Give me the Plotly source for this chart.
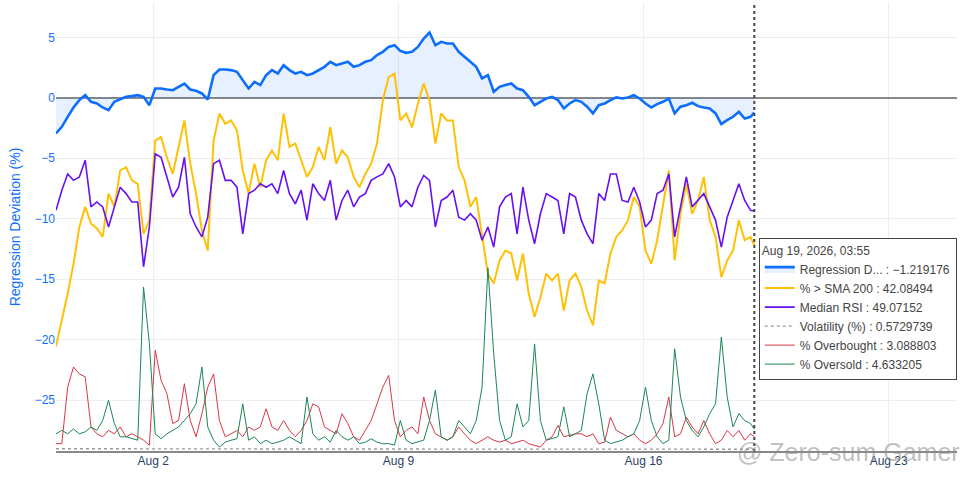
import pandas as pd
import plotly.graph_objects as go

# ---------------- data ----------------
start_time = "2026-07-30 05:20"
last_time = "2026-08-19 03:55"
axis_end = "2026-08-24 22:50"

reg_dev = [
    -2.95, -2.40, -1.57, -0.80, -0.19, 0.22, -0.33, -0.47, -0.80, -1.02,
    -0.33, -0.14, 0.08, 0.14, 0.22, 0.08, -0.61, 0.77, 0.77, 0.69,
    0.63, 0.91, 1.18, 0.69, 0.58, 0.36, -0.14, 1.87, 2.34, 2.34,
    2.29, 2.15, 1.46, 0.77, 1.32, 1.05, 1.87, 2.29, 2.01, 2.70,
    2.29, 2.01, 2.15, 1.87, 2.01, 2.29, 2.56, 2.98, 2.70, 2.84,
    2.98, 2.56, 2.70, 2.98, 3.11, 3.53, 3.80, 4.21, 4.35, 3.88,
    3.72, 3.80, 4.21, 4.90, 5.40, 4.35, 4.63, 4.49, 4.49, 3.80,
    3.39, 2.98, 2.56, 1.60, 1.87, 0.50, 0.91, 1.05, 1.18, 0.77,
    0.63, 0.08, -0.61, -0.33, -0.06, 0.08, -0.19, -0.88, -0.47, -0.19,
    -0.33, -0.74, -1.29, -0.61, -0.47, -0.19, 0.03, -0.06, 0.03, 0.22,
    -0.06, -0.47, -0.80, -0.52, -0.33, -0.06, -1.29, -0.74, -0.61, -0.41,
    -0.69, -0.80, -0.88, -1.29, -2.18, -1.85, -1.57, -1.16, -1.71, -1.57,
    -1.219176,
]

pct_sma200 = [
    21.5, 26.8, 32.2, 38.3, 45.8, 49.9, 46.5, 45.5, 43.8, 52.6,
    49.9, 57.3, 58.0, 55.3, 54.6, 44.4, 47.2, 63.4, 64.1, 60.0,
    56.6, 62.1, 67.5, 58.7, 52.6, 45.1, 41.0, 63.4, 68.9, 66.8,
    67.5, 65.5, 57.3, 52.6, 58.7, 53.9, 59.4, 61.4, 59.4, 68.9,
    62.1, 62.8, 59.4, 56.0, 58.0, 62.1, 59.4, 66.1, 58.7, 61.4,
    60.0, 56.0, 53.9, 56.6, 58.7, 62.8, 71.6, 76.3, 77.0, 67.5,
    68.9, 66.1, 70.9, 75.0, 71.6, 62.8, 68.9, 67.5, 67.5, 58.0,
    55.3, 49.9, 51.9, 43.8, 36.3, 34.3, 39.0, 41.0, 40.4, 34.9,
    40.4, 32.2, 27.5, 31.5, 36.3, 34.9, 36.3, 28.8, 34.9, 36.3,
    33.6, 28.8, 25.8, 34.9, 34.3, 40.4, 43.8, 45.1, 47.2, 51.9,
    49.9, 41.0, 38.3, 43.1, 49.9, 57.3, 39.0, 48.5, 54.6, 48.5,
    51.2, 56.0, 47.2, 43.8, 35.6, 39.0, 41.0, 47.2, 43.1, 43.8,
    42.08494,
]

median_rsi = [
    49.2, 53.3, 56.6, 55.3, 56.0, 59.4, 49.9, 50.9, 49.9, 45.8,
    49.9, 53.9, 52.6, 50.9, 50.9, 37.7, 45.8, 60.7, 60.0, 56.0,
    51.9, 53.9, 60.0, 48.5, 45.8, 43.8, 47.8, 58.7, 59.4, 55.3,
    55.3, 53.9, 44.4, 52.6, 53.3, 54.6, 53.9, 54.6, 52.6, 57.3,
    52.6, 50.5, 53.3, 47.2, 54.6, 52.6, 51.2, 55.3, 47.2, 51.2,
    53.3, 49.9, 51.9, 52.6, 55.3, 56.0, 56.6, 58.7, 56.0, 49.9,
    51.2, 49.9, 53.9, 56.3, 55.3, 45.8, 51.2, 51.9, 53.3, 47.8,
    47.2, 48.5, 47.2, 43.1, 45.8, 41.7, 49.9, 51.9, 52.6, 44.4,
    53.9, 47.2, 42.4, 48.5, 52.6, 51.9, 51.2, 44.4, 52.6, 51.9,
    47.2, 44.4, 42.4, 52.6, 51.2, 56.6, 56.6, 51.2, 50.9, 53.9,
    50.9, 45.8, 47.2, 52.6, 53.3, 56.6, 43.8, 49.9, 56.0, 49.9,
    51.2, 52.6, 49.9, 47.2, 41.7, 47.8, 51.2, 54.6, 51.2, 49.2,
    49.07152,
]

pct_overbought = [
    1.7, 1.7, 13.2, 17.3, 15.9, 15.3, 5.1, 3.7, 3.1, 4.4,
    3.7, 5.1, 3.1, 3.7, 3.1, 2.4, 1.4, 20.7, 14.6, 11.9,
    5.8, 6.4, 13.9, 6.4, 3.1, 7.8, 13.2, 15.9, 6.4, 3.1,
    3.7, 4.4, 3.1, 5.1, 4.4, 5.1, 8.8, 5.1, 4.4, 6.4,
    4.4, 3.1, 4.4, 6.4, 9.8, 9.2, 5.1, 4.4, 3.7, 7.8,
    5.8, 3.1, 2.4, 4.4, 6.4, 9.8, 13.2, 15.6, 6.4, 3.1,
    4.4, 5.1, 3.7, 11.2, 6.4, 3.7, 3.1, 2.4, 3.1, 5.1,
    3.7, 2.4, 1.7, 2.4, 3.1, 2.4, 2.0, 2.4, 1.7, 2.0,
    2.4, 1.7, 1.4, 1.0, 2.4, 3.1, 5.4, 3.1, 3.4, 3.7,
    3.7, 3.1, 3.7, 1.7, 2.0, 7.1, 4.4, 3.7, 3.1, 3.7,
    2.4, 1.7, 2.4, 3.7, 5.8, 11.2, 3.1, 3.7, 7.1, 5.1,
    3.7, 6.4, 3.7, 1.7, 2.4, 4.4, 3.1, 4.4, 2.4, 3.7,
    3.088803,
]

pct_oversold = [
    3.7, 4.4, 3.7, 4.7, 3.7, 4.1, 5.1, 4.4, 6.4, 10.5,
    5.8, 3.1, 3.1, 2.7, 2.4, 33.6, 22.0, 3.7, 2.7, 3.7,
    4.4, 5.1, 6.4, 7.8, 9.8, 17.3, 5.1, 2.4, 1.0, 2.0,
    2.4, 2.7, 9.8, 2.4, 3.1, 1.7, 2.4, 1.7, 2.0, 2.4,
    3.1, 2.4, 1.7, 11.2, 3.7, 2.4, 3.1, 2.0, 4.4, 3.1,
    2.4, 3.1, 1.7, 2.0, 2.7, 2.0, 1.7, 1.7, 1.4, 6.4,
    2.4, 1.7, 2.0, 2.4, 6.4, 12.6, 3.1, 2.4, 3.1, 6.4,
    5.1, 3.7, 6.4, 13.2, 37.5, 20.0, 6.4, 2.4, 3.1, 9.8,
    5.1, 6.4, 22.0, 6.4, 2.4, 2.7, 3.1, 9.2, 3.1, 3.7,
    4.4, 11.9, 15.9, 9.8, 2.4, 1.7, 2.0, 2.4, 3.1, 3.7,
    6.4, 13.2, 6.4, 3.1, 1.7, 2.4, 21.0, 11.2, 6.4, 4.4,
    3.1, 5.1, 7.8, 9.8, 23.4, 11.2, 5.1, 7.8, 6.4, 5.8,
    4.633205,
]

volatility = [
    0.66, 0.64, 0.63, 0.62, 0.63, 0.61, 0.60, 0.60, 0.61, 0.62,
    0.60, 0.59, 0.60, 0.61, 0.60, 0.59, 0.58, 0.59, 0.58, 0.58,
    0.5729739,
]

names = ["Regression Deviation (%)", "% > SMA 200", "Median RSI",
         "Volatility (%)", "% Overbought", "% Oversold"]
colors = ["#0d6efd", "#ffc107", "#6610f2", "#9a9a9a", "#dc3545", "#198754"]

# time grid: 4-hourly samples plus the final bar
times = list(pd.date_range(start_time, periods=len(reg_dev) - 1, freq="4h")) + [pd.Timestamp(last_time)]
vol_times = times[:-1][::6] + [times[-1]]


def label(name, value):
    short = name if len(name) <= 15 else name[:12] + "..."
    txt = "{:.7g}".format(value).replace("-", "\u2212")
    return f"{short} : {txt}"


fig = go.Figure()
fig.add_trace(go.Scatter(x=times, y=reg_dev, name=label(names[0], reg_dev[-1]),
                         mode="lines", line=dict(color=colors[0], width=2.6),
                         fill="tozeroy", fillcolor="rgba(13,110,253,0.10)", yaxis="y"))
fig.add_trace(go.Scatter(x=times, y=pct_sma200, name=label(names[1], pct_sma200[-1]),
                         mode="lines", line=dict(color=colors[1], width=2), yaxis="y2"))
fig.add_trace(go.Scatter(x=times, y=median_rsi, name=label(names[2], median_rsi[-1]),
                         mode="lines", line=dict(color=colors[2], width=1.6), yaxis="y2"))
fig.add_trace(go.Scatter(x=vol_times, y=volatility, name=label(names[3], volatility[-1]),
                         mode="lines", line=dict(color=colors[3], width=1.4, dash="dot"), yaxis="y2"))
fig.add_trace(go.Scatter(x=times, y=pct_overbought, name=label(names[4], pct_overbought[-1]),
                         mode="lines", line=dict(color=colors[4], width=1), yaxis="y2"))
fig.add_trace(go.Scatter(x=times, y=pct_oversold, name=label(names[5], pct_oversold[-1]),
                         mode="lines", line=dict(color=colors[5], width=1), yaxis="y2"))

# hover spike line at the last bar
fig.add_shape(type="line", xref="x", yref="paper", x0=times[-1], x1=times[-1], y0=0, y1=1,
              line=dict(color="#444", width=2, dash="dot"))

fig.add_annotation(text="@ Zero-sum Gamer", xref="paper", yref="paper", x=0.880, y=0.0,
                   xanchor="center", yanchor="middle", showarrow=False,
                   font=dict(family="Arial", size=25, color="rgba(140,140,140,0.55)"))

fig.update_layout(
    width=964, height=477,
    margin=dict(l=56, r=7, t=2, b=25),
    plot_bgcolor="white", paper_bgcolor="white",
    font=dict(family="Arial", size=12, color="#2a3f5f"),
    showlegend=True,
    legend=dict(
        x=0.78, y=0.4756, xanchor="left", yanchor="top",
        bgcolor="white", bordercolor="#444", borderwidth=1,
        font=dict(family="Arial", size=12, color="#444"),
        title=dict(text="Aug 19, 2026, 03:55", font=dict(family="Arial", size=12, color="#444")),
        tracegroupgap=0,
    ),
    xaxis=dict(
        type="date", range=[start_time, axis_end], automargin=False,
        tick0="2026-08-02", dtick=7 * 86400000, tickformat="%b %-d",
        showgrid=True, gridcolor="#eeeeee", zeroline=False, showline=False,
        ticks="",
    ),
    yaxis=dict(
        title=dict(text="Regression Deviation (%)", font=dict(color=colors[0], size=14), standoff=10),
        tickfont=dict(color=colors[0]), automargin=False,
        range=[-29.28, 7.92], dtick=5, tick0=0,
        showgrid=True, gridcolor="#eeeeee",
        zeroline=True, zerolinecolor="#888888", zerolinewidth=2,
    ),
    yaxis2=dict(
        overlaying="y", side="right", range=[0, 91.6], automargin=False,
        showgrid=False, showticklabels=False,
        zeroline=True, zerolinecolor="#888888", zerolinewidth=2,
    ),
)

fig.write_html("out.html", config={"displayModeBar": False},
               post_script="document.body.style.margin='0px';")
